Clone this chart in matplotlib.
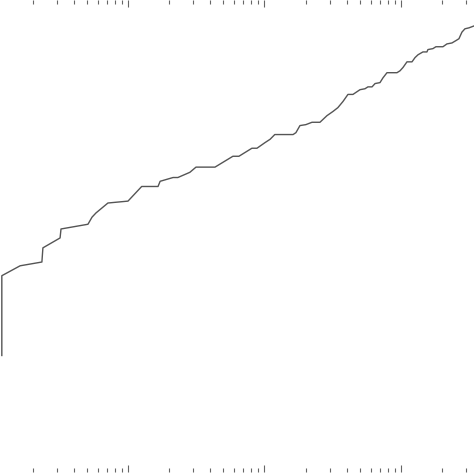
import numpy as np
import matplotlib
matplotlib.use('Agg')
from matplotlib import pyplot as plt

# values (log x, linear y)
x = [1.19, 1.19, 1.62, 2.34, 2.38, 3.18, 3.23, 5.09, 5.45, 5.83, 7.13, 10.0,
     12.6, 16.6, 17.2, 21.4, 23.2, 28.4, 31.5, 43.4, 58.7, 65.0, 80.9, 88.1,
     101, 110, 119, 162, 170, 182, 201, 223, 255, 287, 318, 345, 376, 409,
     445, 501, 545, 573, 614, 646, 702, 738, 790, 935, 984, 1035, 1107, 1205,
     1268, 1334, 1449, 1550, 1577, 1715, 1804, 2031, 2173, 2364, 2529, 2661,
     2799, 2944, 3149, 3428]
y = [24.7, 41.6, 43.7, 44.5, 47.5, 49.6, 51.5, 52.5, 54.0, 54.9, 57.0, 57.4,
     60.5, 60.5, 61.6, 62.4, 62.4, 63.5, 64.6, 64.6, 66.9, 66.9, 68.6, 68.6,
     69.8, 70.5, 71.5, 71.5, 71.9, 73.4, 73.6, 74.1, 74.1, 75.5, 76.4, 77.2,
     78.5, 80.0, 80.0, 81.0, 81.2, 81.6, 81.6, 82.3, 82.5, 83.5, 84.6, 84.6,
     85.0, 85.7, 86.9, 86.9, 87.8, 88.4, 89.0, 89.0, 89.5, 89.7, 90.1, 90.1,
     90.7, 90.9, 91.4, 91.8, 93.2, 93.9, 94.1, 94.5]

fig = plt.figure(figsize=(4.74, 4.74), dpi=100)
ax = fig.add_axes([0, 0.004, 1, 0.996])
ax.plot(x, y, color='#555555', lw=1.0)
ax.set_xscale('log')
ax.set_xlim(1.154, 3430)
ax.set_ylim(0, 100)

for s in ax.spines.values():
    s.set_visible(False)
ax.tick_params(axis='x', which='both', direction='in', top=True, bottom=True,
               labelbottom=False, labeltop=False, color='#666666', width=0.8)
ax.tick_params(axis='x', which='major', length=5)
ax.tick_params(axis='x', which='minor', length=3)
ax.tick_params(axis='y', which='both', left=False, right=False, labelleft=False)

plt.savefig('out.png', dpi=100)
